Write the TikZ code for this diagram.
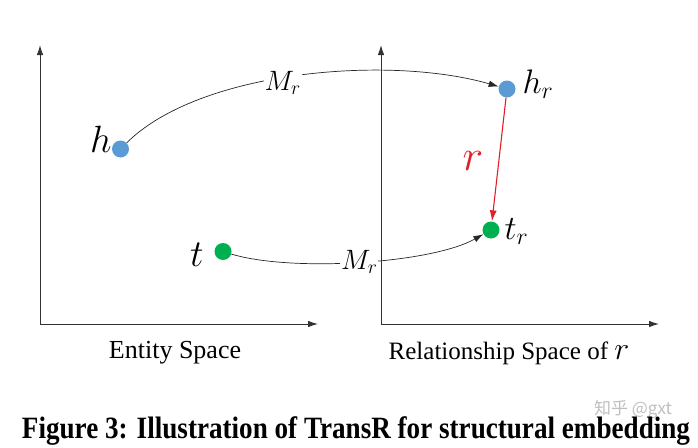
\RequirePackage{fix-cm}
\documentclass[tikz,border=0pt]{standalone}
\usepackage{graphicx}
\usepackage{fontspec}
\setmainfont{Liberation Serif}
\newfontfamily\cjkfont{Noto Sans CJK SC}
\usetikzlibrary{arrows.meta,positioning}
\definecolor{dotblue}{RGB}{91,155,213}
\definecolor{dotgreen}{RGB}{0,176,80}
\definecolor{vecred}{RGB}{226,30,40}
\tikzset{dot/.style={circle, inner sep=0pt, minimum size=17pt}}
\tikzset{axis/.style={-{Latex[length=10pt,width=6.5pt]}, line width=.9pt, black!80}}
\tikzset{maparrow/.style={-{Latex[length=10pt,width=6.5pt]}, line width=.7pt, black!85}}
\tikzset{maplbl/.style={fill=white, inner sep=1pt, text=black, font=\fontsize{28}{28}\selectfont}}

\begin{document}
\begin{tikzpicture}[x=1pt,y=-1pt]
  \useasboundingbox (0,0) rectangle (698,447);

  \coordinate(O1) at (40,324);
  \coordinate(Y1) at (40,45);
  \coordinate(X1) at (318,324);
  \coordinate(O2) at (381,324);
  \coordinate(Y2) at (381,45);
  \coordinate(X2) at (659,324);

  \draw[axis] (O1) -- (Y1);
  \draw[axis] (O1) -- (X1);
  \draw[axis] (O2) -- (Y2);
  \draw[axis] (O2) -- (X2);

  \node[dot, fill=dotblue] (h) at (120.5,149) {};
  \node[dot, fill=dotblue] (hr) at (507,89) {};
  \node[dot, fill=dotgreen] (t) at (223,251.5) {};
  \node[dot, fill=dotgreen] (tr) at (491,230) {};

%  \draw[very thin, gray] (0,0) grid[step=50] (698,447);

  \draw[maparrow] (h) .. controls (200,70) and (390,55) .. (hr)
  node[maplbl, pos=.46, yshift=-5pt]{$M_r$};
  \draw[maparrow] (t) .. controls (290,272) and (430,264) .. (tr)
  node[maplbl, pos=.5]{$M_r$};
  \draw[-{Latex[length=11pt,width=7pt]}, vecred, line width=1.1pt] (hr) -- (tr);

  \draw (115,152) node[anchor=base east, font=\fontsize{38}{38}\selectfont]{$h$};
  \draw (207,266) node[anchor=base east, font=\fontsize{38}{38}\selectfont]{$t$};
  \draw (519,93) node[anchor=base west, font=\fontsize{34}{34}\selectfont]{$h_r$};
  \draw (501,239) node[anchor=base west, font=\fontsize{34}{34}\selectfont]{$t_r$};
  \draw (473,170) node[anchor=base, text=vecred, font=\fontsize{44}{44}\selectfont]{$r$};

  \node[font=\fontsize{26}{26}\selectfont] (ent) at (175,353) {Entity Space};
  \node[font=\fontsize{25}{25}\selectfont] (rel) at (509,353)
  {Relationship Space of {\fontsize{32}{32}\selectfont$r$}};

  \node[text=black!25, font=\cjkfont\fontsize{17}{17}\selectfont] (mark) at (633,409) {知乎 @gxt};
  \node[anchor=base, font=\bfseries\fontsize{31}{31}\selectfont] (cap) at (356,438)
  {\resizebox{668pt}{\height}{Figure 3: Illustration of TransR for structural embedding}};
\end{tikzpicture}
\end{document}
